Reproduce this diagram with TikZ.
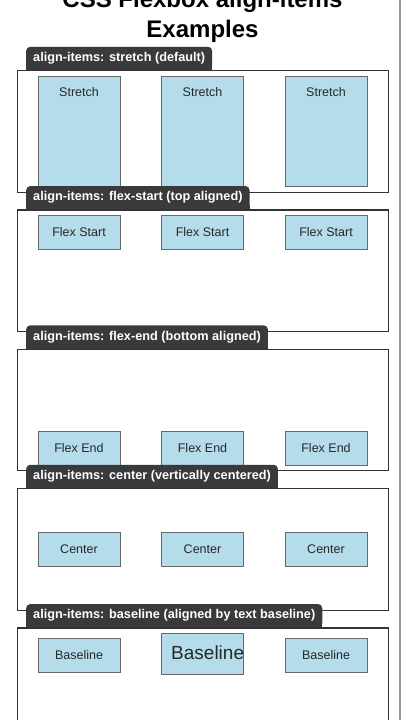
\documentclass[tikz,border=0pt]{standalone}
\usepackage{fontspec}
\setmainfont{Liberation Sans}
\usetikzlibrary{positioning}
\definecolor{TabGray}{RGB}{58, 58, 60}
\definecolor{ItemBlue}{RGB}{180, 220, 234}
\definecolor{ItemEdge}{RGB}{105, 105, 105}
\definecolor{BoxEdge}{RGB}{51, 51, 51}
\definecolor{ItemText}{RGB}{40, 40, 40}
\definecolor{RuleGray}{RGB}{150, 150, 150}

\begin{document}
\begin{tikzpicture}[x=1pt, y=-1pt,
    container/.style={draw=BoxEdge, line width=1.3pt, fill=white, anchor=north west,
      minimum width=371pt, minimum height=121.5pt, inner sep=0pt},
    tab/.style={fill=TabGray, rounded corners=4pt, anchor=south west, minimum height=23pt,
      inner xsep=7pt, inner ysep=0pt, text=white, font=\fontsize{12.7}{15}\selectfont\bfseries},
    item/.style={draw=ItemEdge, line width=1pt, fill=ItemBlue, minimum width=82pt,
      minimum height=34pt, inner sep=0pt, text=ItemText, font=\fontsize{12.5}{15}\selectfont},
    itemtext/.style={text=ItemText, font=\fontsize{12.5}{15}\selectfont, inner sep=0pt},
    heading/.style={anchor=base, font=\fontsize{24}{30}\selectfont\bfseries, inner sep=0pt}]
    \useasboundingbox (0, 0) rectangle (405, 720);

    % Title
    \node[heading] (title1) at (202.5, 7.5) {CSS Flexbox align-items};
    \node[heading] (title2) at (202.5, 37.7) {Examples};

    % Right edge rule
    \draw[RuleGray, line width=2pt] (400, 0) -- (400, 720);

    % stretch
    \node[container] (box1) at (17, 70) {};
    \node[item, anchor=north, minimum height=110pt] (s1) at (79, 76) {};
    \node[item, anchor=north, minimum height=110pt] (s2) at (202.5, 76) {};
    \node[item, anchor=north, minimum height=110pt] (s3) at (326, 76) {};
    \node[itemtext] (s1t) at (79, 92) {Stretch};
    \node[itemtext] (s2t) at (202.5, 92) {Stretch};
    \node[itemtext] (s3t) at (326, 92) {Stretch};
    \node[tab] (tab1) at (26, 70) {align-items: stretch (default)};
    \fill[TabGray] (tab1.south west) rectangle ([yshift=4pt]tab1.south east);

    % flex-start
    \node[container] (box2) at (17, 209.3) {};
    \node[item] (fs1) at (79, 232.3) {Flex Start};
    \node[item] (fs2) at (202.5, 232.3) {Flex Start};
    \node[item] (fs3) at (326, 232.3) {Flex Start};
    \node[tab] (tab2) at (26, 209.3) {align-items: flex-start (top aligned)};
    \fill[TabGray] (tab2.south west) rectangle ([yshift=4pt]tab2.south east);

    % flex-end
    \node[container] (box3) at (17, 348.6) {};
    \node[item] (fe1) at (79, 448.1) {Flex End};
    \node[item] (fe2) at (202.5, 448.1) {Flex End};
    \node[item] (fe3) at (326, 448.1) {Flex End};
    \node[tab] (tab3) at (26, 348.6) {align-items: flex-end (bottom aligned)};
    \fill[TabGray] (tab3.south west) rectangle ([yshift=4pt]tab3.south east);

    % center
    \node[container] (box4) at (17, 488) {};
    \node[item] (c1) at (79, 549) {Center};
    \node[item] (c2) at (202.5, 549) {Center};
    \node[item] (c3) at (326, 549) {Center};
    \node[tab] (tab4) at (26, 488) {align-items: center (vertically centered)};
    \fill[TabGray] (tab4.south west) rectangle ([yshift=4pt]tab4.south east);

    % baseline
    \node[container] (box5) at (17, 627.3) {};
    \node[item] (b1) at (79, 655.3) {Baseline};
    \node[item, anchor=north, minimum height=41.3pt] (b2) at (202.5, 632.7) {};
    \node[item] (b3) at (326, 655.3) {Baseline};
    \node[itemtext, anchor=base west, font=\fontsize{19}{22}\selectfont] (b2t) at (171, 659.3) {Baseline};
    \node[tab] (tab5) at (26, 627.3) {align-items: baseline (aligned by text baseline)};
    \fill[TabGray] (tab5.south west) rectangle ([yshift=4pt]tab5.south east);
  \end{tikzpicture}
\end{document}
